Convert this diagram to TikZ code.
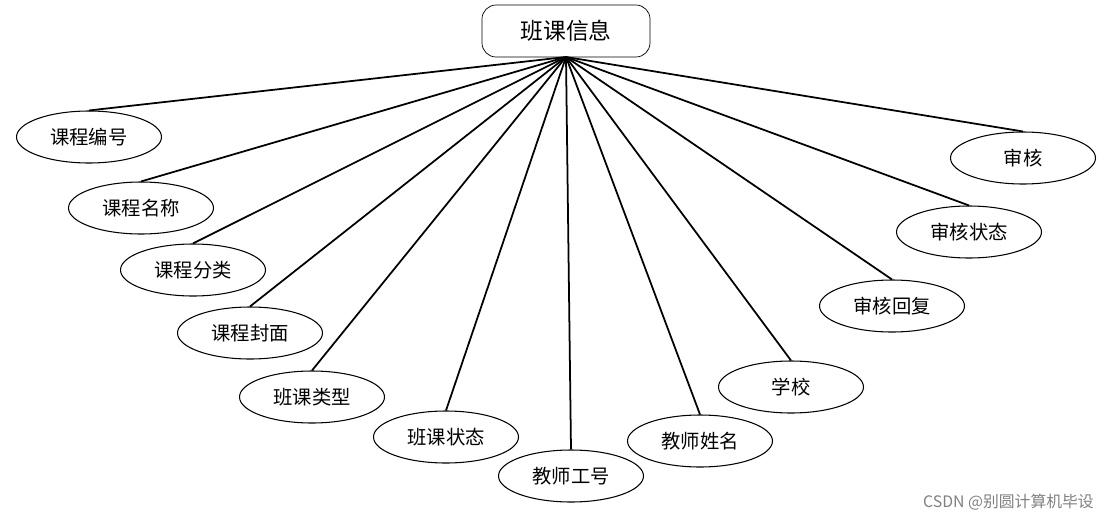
\documentclass[tikz,border=0pt]{standalone}
\usepackage{fontspec}
\newfontfamily\cjk{Noto Sans CJK SC}
\usetikzlibrary{shapes.geometric}
\begin{document}
\begin{tikzpicture}[x=0.02cm,y=-0.02cm,
  attr/.style={ellipse,draw,line width=0.6pt,minimum width=145*0.02cm,minimum height=52*0.02cm,font=\cjk\fontsize{11}{13}\selectfont,inner sep=0pt},
  link/.style={line width=1pt}]
\useasboundingbox (0,0) rectangle (1106,521);
\node[draw,rounded corners=8pt,minimum width=168*0.02cm,minimum height=52*0.02cm,font=\cjk\fontsize{13}{15}\selectfont] (top) at (566,31) {班课信息};
\coordinate (hub) at (566,57);
\foreach \n/\x/\y/\t in {a/89/137/课程编号,b/141/208/课程名称,c/193/270/课程分类,d/250/333/课程封面,e/312/397/班课类型,f/446/437/班课状态,g/571/476/教师工号,h/700/441/教师姓名,i/791/387/学校,j/892/306/审核回复,k/969/232/审核状态,l/1023/158/审核}{
  \node[attr] (\n) at (\x,\y) {\t};
  \draw[link] (hub) -- (\n.north);
}
\node[anchor=south east,text=gray,font=\cjk\fontsize{9}{10}\selectfont] (wm) at (1100,516) {CSDN @别圆计算机毕设};
\end{tikzpicture}
\end{document}
